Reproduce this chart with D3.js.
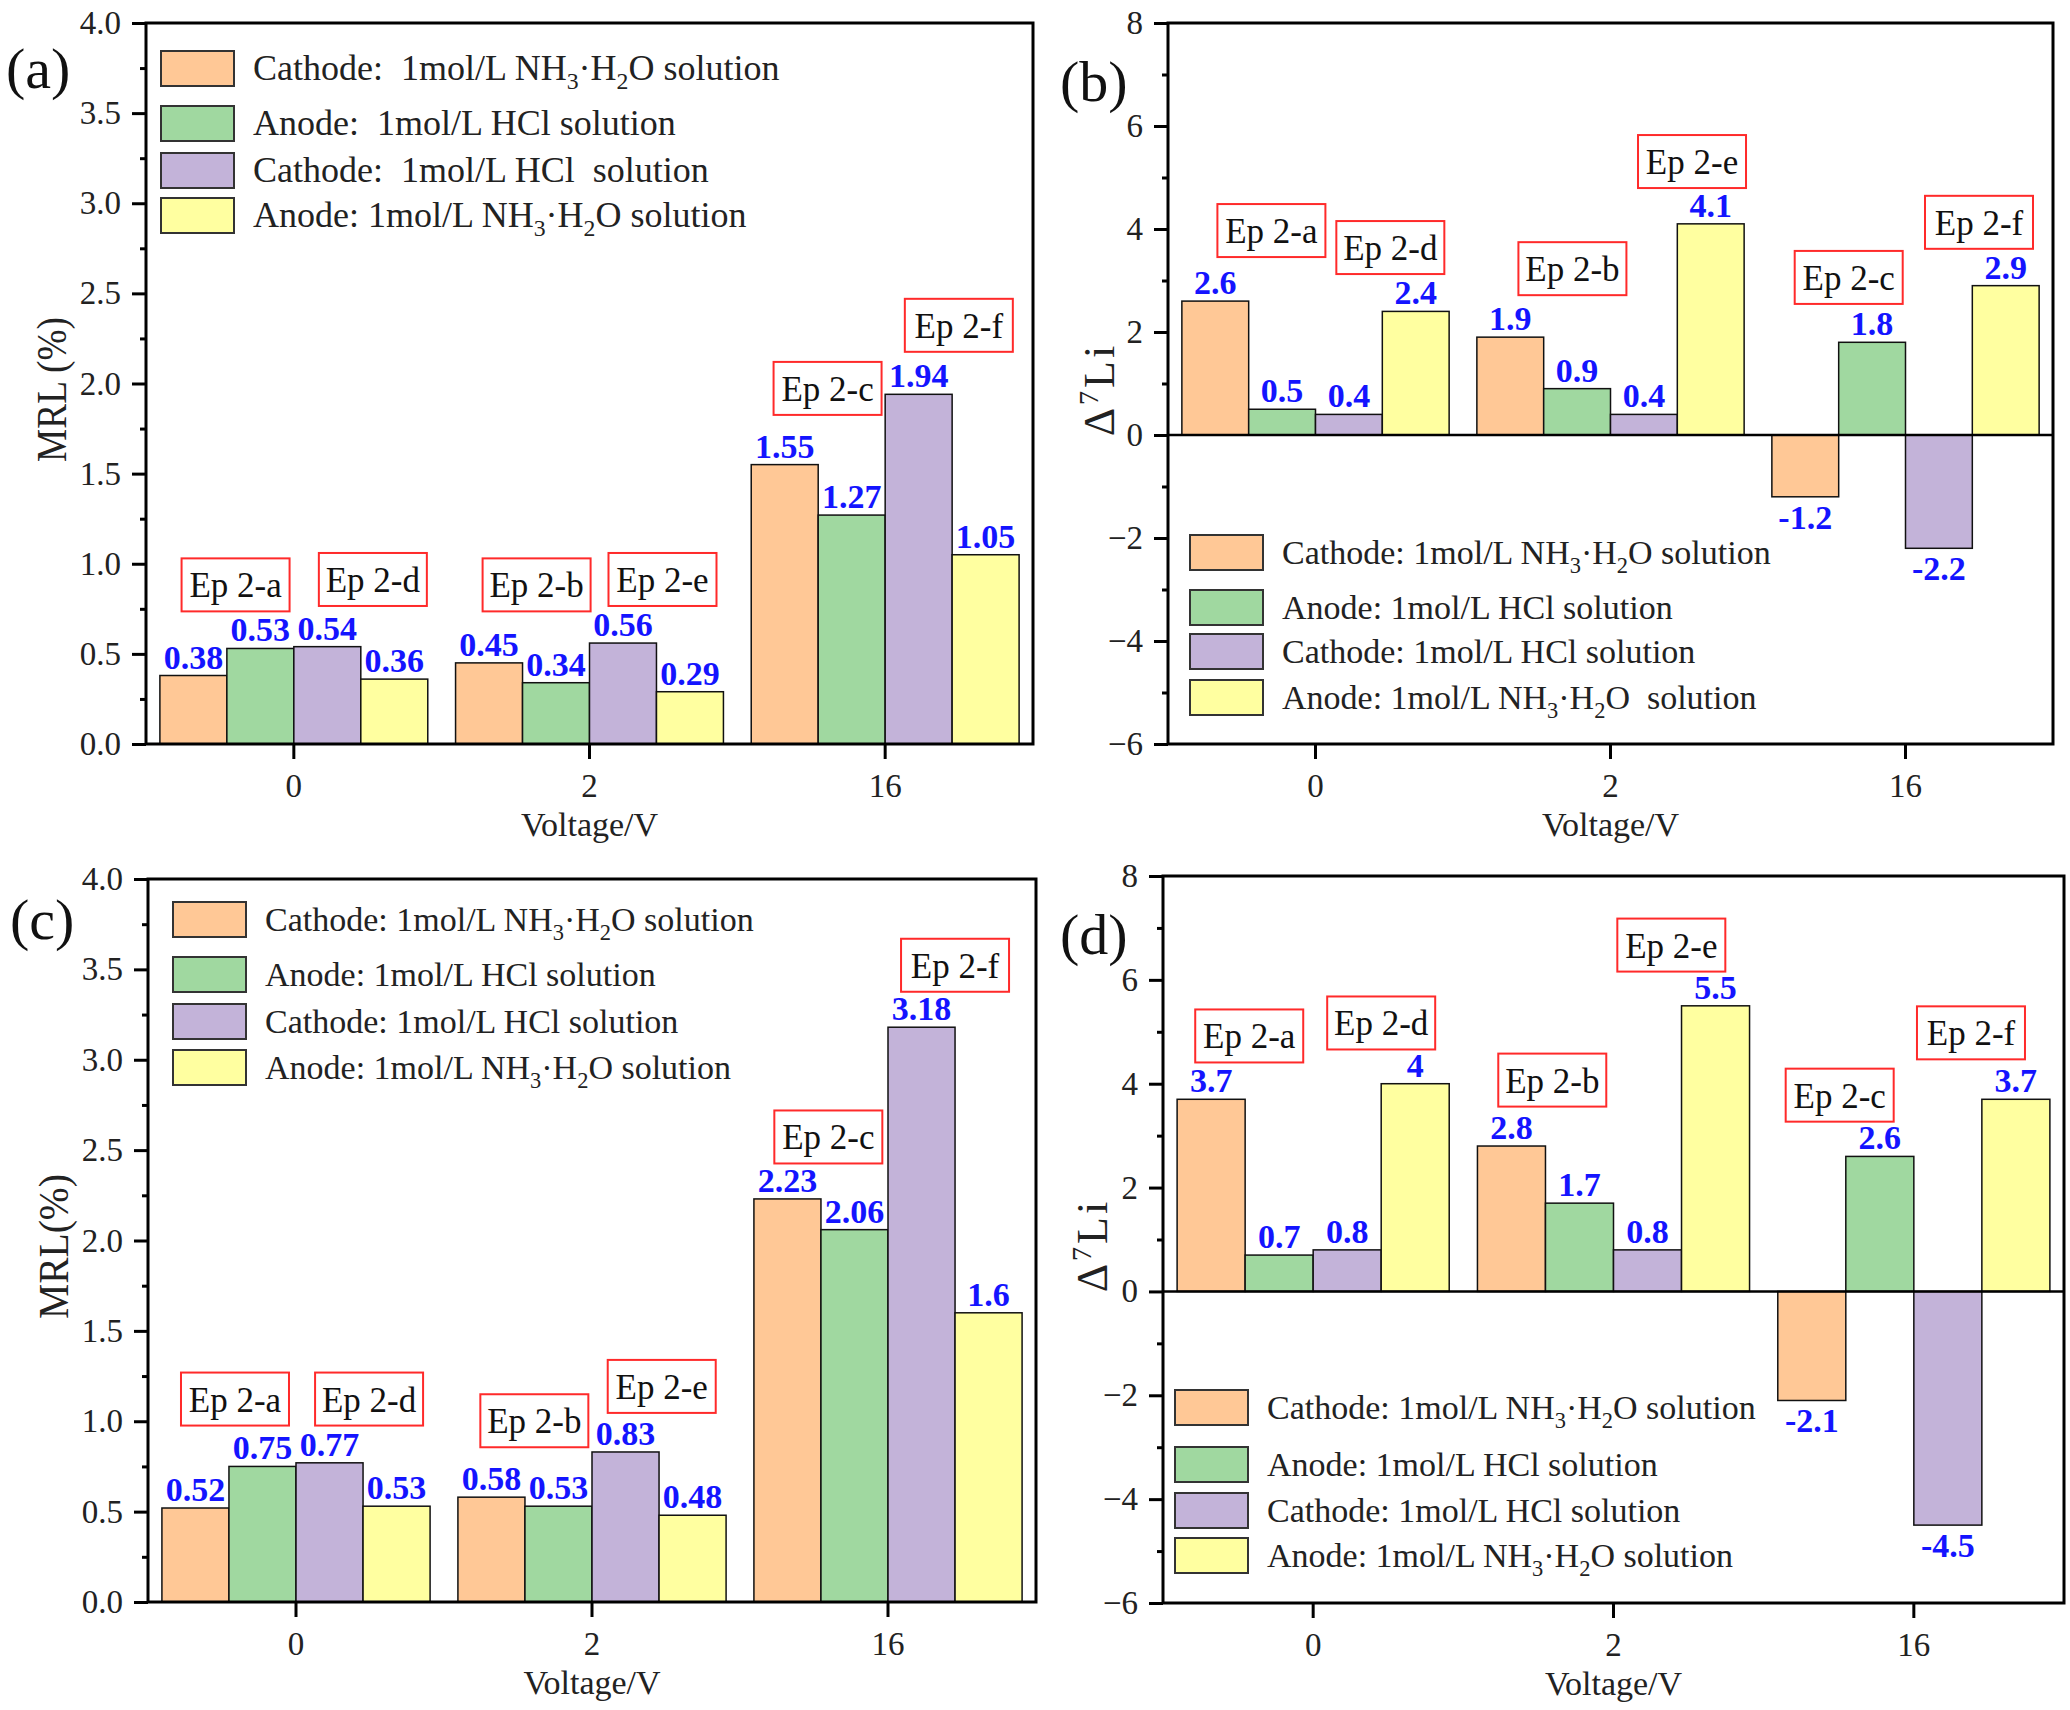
<!DOCTYPE html>
<html>
<head>
<meta charset="utf-8">
<script src="https://cdn.jsdelivr.net/npm/d3@7"></script>
<style>
  body { margin: 0; background: #fff; }
  svg text { font-family: 'Liberation Serif', 'Times New Roman', serif; white-space: pre; }
</style>
</head>
<body>
<svg id="fig" width="2070" height="1710"></svg>
<script>
const categories = ['0', '2', '16']
const colors = ['#ffc896', '#a0d8a0', '#c3b3d9', '#ffffa0']

// series order: cathode NH3, anode HCl, cathode HCl, anode NH3
const mrlA = [
  [0.38, 0.45, 1.55],
  [0.53, 0.34, 1.27],
  [0.54, 0.56, 1.94],
  [0.36, 0.29, 1.05]
]
const liB = [
  [2.6, 1.9, -1.2],
  [0.5, 0.9, 1.8],
  [0.4, 0.4, -2.2],
  [2.4, 4.1, 2.9]
]
const mrlC = [
  [0.52, 0.58, 2.23],
  [0.75, 0.53, 2.06],
  [0.77, 0.83, 3.18],
  [0.53, 0.48, 1.6]
]
const liD = [
  [3.7, 2.8, -2.1],
  [0.7, 1.7, 2.6],
  [0.8, 0.8, -4.5],
  [4, 5.5, 3.7]
]

const legendA = ['Cathode:  1mol/L NH_3·H_2O solution', 'Anode:  1mol/L HCl solution', 'Cathode:  1mol/L HCl  solution', 'Anode: 1mol/L NH_3·H_2O solution']
const legendB = ['Cathode: 1mol/L NH_3·H_2O solution', 'Anode: 1mol/L HCl solution', 'Cathode: 1mol/L HCl solution', 'Anode: 1mol/L NH_3·H_2O  solution']
const legendC = ['Cathode: 1mol/L NH_3·H_2O solution', 'Anode: 1mol/L HCl solution', 'Cathode: 1mol/L HCl solution', 'Anode: 1mol/L NH_3·H_2O solution']

const mrlTicks = [0, 0.5, 1, 1.5, 2, 2.5, 3, 3.5, 4]
const mrlMinor = [0.25, 0.75, 1.25, 1.75, 2.25, 2.75, 3.25, 3.75]
const liTicks = [-6, -4, -2, 0, 2, 4, 6, 8]
const liMinor = [-5, -3, -1, 1, 3, 5, 7]

// experiment labels: category, position inside the group (in bar widths), value height
const epA = [
  { label: 'Ep 2-a', cat: 0, pos: 1.13, y: 0.88 },
  { label: 'Ep 2-d', cat: 0, pos: 3.18, y: 0.91 },
  { label: 'Ep 2-b', cat: 1, pos: 1.21, y: 0.88 },
  { label: 'Ep 2-e', cat: 1, pos: 3.09, y: 0.91 },
  { label: 'Ep 2-c', cat: 2, pos: 1.14, y: 1.97 },
  { label: 'Ep 2-f', cat: 2, pos: 3.1, y: 2.32 }
]
const epB = [
  { label: 'Ep 2-a', cat: 0, pos: 1.34, y: 3.96 },
  { label: 'Ep 2-d', cat: 0, pos: 3.12, y: 3.63 },
  { label: 'Ep 2-b', cat: 1, pos: 1.43, y: 3.22 },
  { label: 'Ep 2-e', cat: 1, pos: 3.22, y: 5.3 },
  { label: 'Ep 2-c', cat: 2, pos: 1.15, y: 3.05 },
  { label: 'Ep 2-f', cat: 2, pos: 3.1, y: 4.12 }
]
const epC = [
  { label: 'Ep 2-a', cat: 0, pos: 1.09, y: 1.12 },
  { label: 'Ep 2-d', cat: 0, pos: 3.09, y: 1.12 },
  { label: 'Ep 2-b', cat: 1, pos: 1.14, y: 1.0 },
  { label: 'Ep 2-e', cat: 1, pos: 3.04, y: 1.19 },
  { label: 'Ep 2-c', cat: 2, pos: 1.11, y: 2.57 },
  { label: 'Ep 2-f', cat: 2, pos: 3.0, y: 3.52 }
]
const epD = [
  { label: 'Ep 2-a', cat: 0, pos: 1.06, y: 4.91 },
  { label: 'Ep 2-d', cat: 0, pos: 3.0, y: 5.16 },
  { label: 'Ep 2-b', cat: 1, pos: 1.1, y: 4.06 },
  { label: 'Ep 2-e', cat: 1, pos: 2.85, y: 6.66 },
  { label: 'Ep 2-c', cat: 2, pos: 0.91, y: 3.77 },
  { label: 'Ep 2-f', cat: 2, pos: 2.84, y: 4.97 }
]

const svg = d3.select('#fig')

// writes "NH_3" style strings with real subscripts
function richText (sel, str, size) {
  const parts = str.split(/_(\d)/)
  parts.forEach(function (p, i) {
    if (i % 2 === 1) {
      sel.append('tspan').attr('dy', size * 0.25).attr('font-size', size * 0.66).text(p)
    } else {
      sel.append('tspan').attr('dy', i === 0 ? 0 : -size * 0.25).text(p)
    }
  })
}

function drawPanel (cfg) {
  const g = svg.append('g')
  const x = d3.scaleBand().domain(categories).range([cfg.left, cfg.right])
    .paddingInner(0.094).paddingOuter(0.047)
  const xs = d3.scaleBand().domain(d3.range(4)).range([0, x.bandwidth()])
  const y = d3.scaleLinear().domain(cfg.yDomain).range([cfg.bottom, cfg.top])

  // bars
  cfg.values.forEach(function (vals, s) {
    g.selectAll(null).data(vals).enter().append('rect')
      .attr('x', (d, i) => x(categories[i]) + xs(s))
      .attr('y', d => y(Math.max(0, d)))
      .attr('width', xs.bandwidth())
      .attr('height', d => Math.abs(y(d) - y(0)))
      .attr('fill', colors[s])
      .attr('stroke', '#111')
      .attr('stroke-width', 1.5)
  })

  if (cfg.yDomain[0] < 0) {
    g.append('line')
      .attr('x1', cfg.left).attr('x2', cfg.right)
      .attr('y1', y(0)).attr('y2', y(0))
      .attr('stroke', '#000').attr('stroke-width', 2.5)
  }

  // value labels
  cfg.values.forEach(function (vals, s) {
    g.selectAll(null).data(vals).enter().append('text')
      .attr('x', (d, i) => x(categories[i]) + xs(s) + xs.bandwidth() / 2)
      .attr('y', d => d >= 0 ? y(d) - 7 : y(d) + 32)
      .attr('text-anchor', 'middle')
      .attr('font-size', 34)
      .attr('font-weight', 'bold')
      .attr('fill', '#1414ff')
      .text(d => d)
  })

  // axes
  const minor = g.append('g').attr('transform', `translate(${cfg.left},0)`)
    .call(d3.axisLeft(y).tickValues(cfg.minor).tickSize(6).tickFormat(''))
  const major = g.append('g').attr('transform', `translate(${cfg.left},0)`)
    .call(d3.axisLeft(y).tickValues(cfg.ticks).tickSize(14).tickPadding(11).tickFormat(cfg.fmt))
  const xa = g.append('g').attr('transform', `translate(0,${cfg.bottom})`)
    .call(d3.axisBottom(x).tickSize(15).tickPadding(15))
  ;[minor, major, xa].forEach(function (a) {
    a.select('.domain').remove()
    a.selectAll('line').attr('stroke', '#000').attr('stroke-width', 3)
    a.selectAll('text').attr('font-size', 33).attr('fill', '#222')
      .style('font-family', "'Liberation Serif', serif")
  })

  g.append('rect')
    .attr('x', cfg.left).attr('y', cfg.top)
    .attr('width', cfg.right - cfg.left).attr('height', cfg.bottom - cfg.top)
    .attr('fill', 'none').attr('stroke', '#000').attr('stroke-width', 3)

  // experiment boxes
  const ep = g.selectAll(null).data(cfg.ep).enter().append('g')
    .attr('transform', d => `translate(${x(categories[d.cat]) + d.pos * xs.bandwidth()},${y(d.y)})`)
  ep.append('rect')
    .attr('x', -54).attr('y', -27).attr('width', 108).attr('height', 53)
    .attr('fill', '#fff').attr('stroke', '#ff2a2a').attr('stroke-width', 2)
  ep.append('text')
    .attr('y', 12).attr('text-anchor', 'middle')
    .attr('font-size', 35).attr('fill', '#111')
    .text(d => d.label)

  // legend
  const legend = g.selectAll(null).data(cfg.legend).enter().append('g')
    .attr('transform', (d, i) => `translate(${cfg.left + cfg.legendX},${cfg.top + cfg.legendY[i]})`)
  legend.append('rect')
    .attr('width', 73).attr('height', 35)
    .attr('fill', (d, i) => colors[i])
    .attr('stroke', '#333').attr('stroke-width', 2)
  legend.append('text')
    .attr('x', 92).attr('y', 29)
    .attr('font-size', cfg.legendSize).attr('fill', '#222')
    .each(function (d) { richText(d3.select(this), d, cfg.legendSize) })

  // titles
  const cx = (cfg.left + cfg.right) / 2
  g.append('text')
    .attr('x', cx).attr('y', cfg.bottom + 92)
    .attr('text-anchor', 'middle').attr('font-size', 34).attr('fill', '#222')
    .text('Voltage/V')
  const yt = g.append('text')
    .attr('transform', `translate(${cfg.left - cfg.titleGap},${(cfg.top + cfg.bottom) / 2 + 6}) rotate(-90)`)
    .attr('text-anchor', 'middle').attr('fill', '#222')
  if (cfg.yTitle === 'li') {
    yt.attr('font-size', 44).attr('letter-spacing', 3)
    yt.append('tspan').text('Δ')
    yt.append('tspan').attr('dy', -16).attr('font-size', 28).text('7')
    yt.append('tspan').attr('dy', 16).text('Li')
  } else {
    yt.attr('font-size', 42).attr('textLength', 145).attr('lengthAdjust', 'spacingAndGlyphs')
      .text(cfg.yTitle)
  }

  g.append('text')
    .attr('x', cfg.letterX).attr('y', cfg.letterY)
    .attr('font-size', 58).attr('fill', '#111')
    .text(cfg.letter)
}

const f1 = d3.format('.1f')
const f0 = d3.format('d')

drawPanel({
  left: 146, right: 1033, top: 23, bottom: 744,
  yDomain: [0, 4], ticks: mrlTicks, minor: mrlMinor, fmt: f1,
  values: mrlA, ep: epA, legend: legendA, legendSize: 36,
  legendX: 15, legendY: [28, 83, 130, 175],
  yTitle: 'MRL (%)', titleGap: 80,
  letter: '(a)', letterX: 6, letterY: 88
})
drawPanel({
  left: 1168, right: 2053, top: 23, bottom: 744,
  yDomain: [-6, 8], ticks: liTicks, minor: liMinor, fmt: f0,
  values: liB, ep: epB, legend: legendB, legendSize: 34,
  legendX: 22, legendY: [512, 567, 611, 657],
  yTitle: 'li', titleGap: 54,
  letter: '(b)', letterX: 1060, letterY: 101
})
drawPanel({
  left: 148, right: 1036, top: 879, bottom: 1602,
  yDomain: [0, 4], ticks: mrlTicks, minor: mrlMinor, fmt: f1,
  values: mrlC, ep: epC, legend: legendC, legendSize: 34,
  legendX: 25, legendY: [23, 78, 125, 171],
  yTitle: 'MRL(%)', titleGap: 80,
  letter: '(c)', letterX: 10, letterY: 939
})
drawPanel({
  left: 1163, right: 2064, top: 876, bottom: 1603,
  yDomain: [-6, 8], ticks: liTicks, minor: liMinor, fmt: f0,
  values: liD, ep: epD, legend: legendC, legendSize: 34,
  legendX: 12, legendY: [514, 571, 617, 662],
  yTitle: 'li', titleGap: 56,
  letter: '(d)', letterX: 1060, letterY: 954
})
</script>
</body>
</html>
